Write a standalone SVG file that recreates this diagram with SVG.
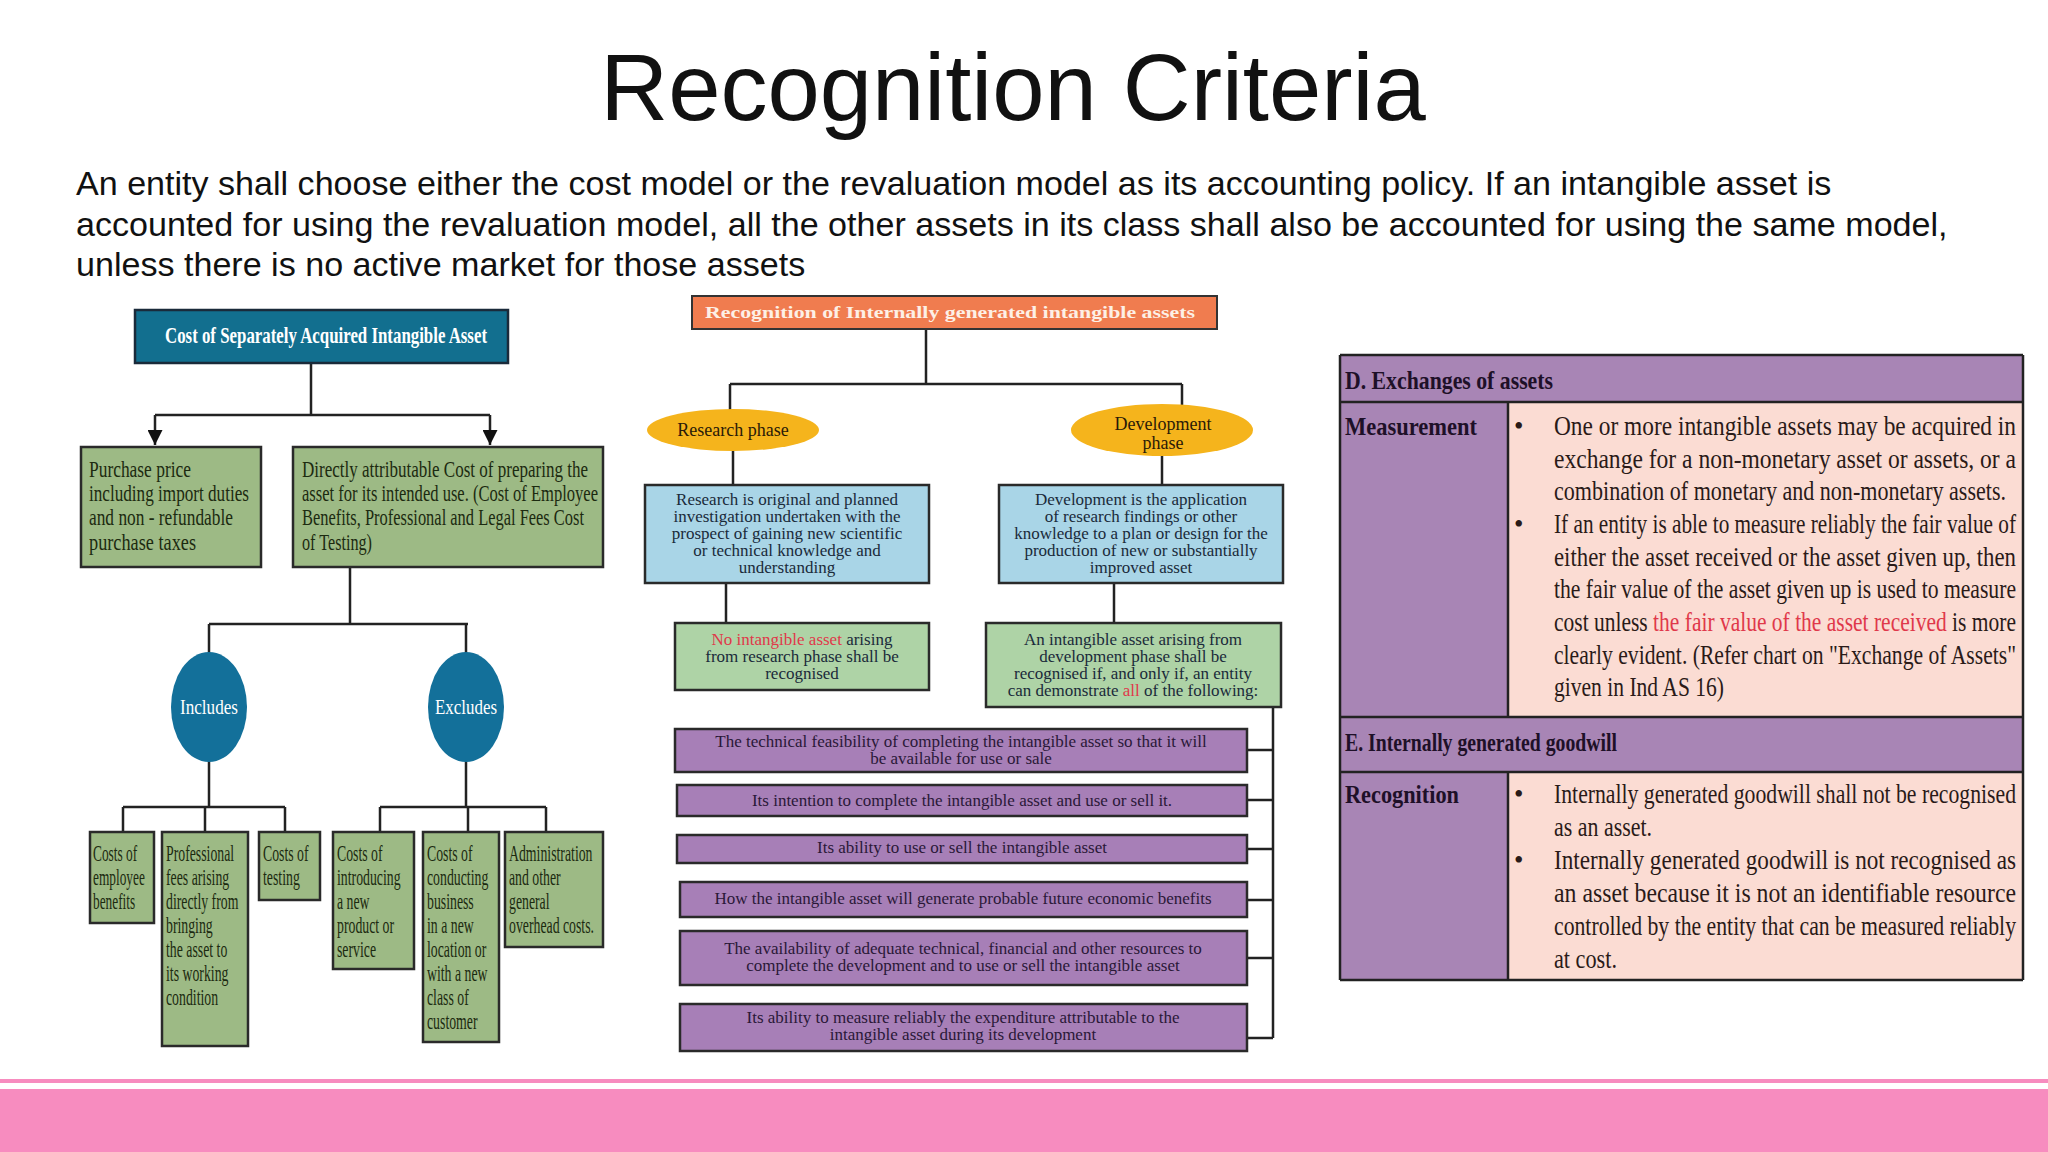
<svg xmlns="http://www.w3.org/2000/svg" width="2048" height="1152" viewBox="0 0 2048 1152">
<style>
.t{font-family:"Liberation Sans",Arial,sans-serif;fill:#111}
.s{font-family:"Liberation Serif","Times New Roman",serif}
.ln{stroke:#222;stroke-width:2.5;fill:none}
.gr{fill:#9dba85;stroke:#2a2a2a;stroke-width:2.5}
.bl{fill:#a9d5e7;stroke:#2a2a2a;stroke-width:2.5}
.gm{fill:#aed3a6;stroke:#2a2a2a;stroke-width:2.5}
.pu{fill:#a77fb7;stroke:#2a2a2a;stroke-width:2.5}
.gt{font-family:"Liberation Serif",serif;font-size:23px;fill:#1c2a10}
.mt{font-family:"Liberation Serif",serif;font-size:17px;fill:#1a2a3a;text-anchor:middle}
.pt{font-family:"Liberation Serif",serif;font-size:17px;fill:#2a1838;text-anchor:middle}
.tb{font-family:"Liberation Serif",serif;font-size:27px;fill:#2a1a18}
.th{font-family:"Liberation Serif",serif;font-size:26px;font-weight:bold;fill:#1e1028}
</style>
<defs>
<marker id="ah" viewBox="0 0 10 10" refX="10" refY="5" markerWidth="6" markerHeight="6" orient="auto" markerUnits="strokeWidth">
<path d="M0,0 L10,5 L0,10 z" fill="#111"/>
</marker>
</defs>
<rect width="2048" height="1152" fill="#fff"/>
<text class="t" x="1013" y="120" font-size="94" text-anchor="middle" fill="#222">Recognition Criteria</text>
<text class="t" font-size="34.1" fill="#111">
<tspan x="76" y="195">An entity shall choose either the cost model or the revaluation model as its accounting policy. If an intangible asset is</tspan>
<tspan x="76" y="236">accounted for using the revaluation model, all the other assets in its class shall also be accounted for using the same model,</tspan>
<tspan x="76" y="276">unless there is no active market for those assets</tspan>
</text>

<g id="connectors">
<path class="ln" d="M311,363 V415 M155,415 H490"/>
<path class="ln" d="M155,415 V445" marker-end="url(#ah)"/>
<path class="ln" d="M490,415 V445" marker-end="url(#ah)"/>
<path class="ln" d="M350,567 V624 M209,624 H468 M209,624 V653 M466,624 V653"/>
<path class="ln" d="M209,761 V807 M123,807 H285 M123,807 V832 M205,807 V832 M285,807 V832"/>
<path class="ln" d="M466,761 V807 M380,807 H546 M380,807 V832 M468,807 V832 M546,807 V832"/>
<path class="ln" d="M926,329 V384 M730,384 H1182 M730,384 V410 M1182,384 V405"/>
<path class="ln" d="M733,451 V485 M1162,456 V485 M726,583 V623 M1114,583 V623"/>
<path class="ln" d="M1273,707 V1038 M1247,750 H1273 M1247,800 H1273 M1247,849 H1273 M1247,900 H1273 M1247,958 H1273 M1247,1038 H1273"/>
</g>

<g id="n-cost">
<rect x="135" y="310" width="373" height="53" fill="#126f8f" stroke="#1a2a3a" stroke-width="2.5"/>
<text class="s" x="165" y="343" font-size="23" font-weight="bold" fill="#fff" textLength="322" lengthAdjust="spacingAndGlyphs">Cost of Separately Acquired Intangible Asset</text>
</g>
<g id="n-purchase">
<rect class="gr" x="81" y="447" width="180" height="120"/>
<text class="gt"><tspan x="89" y="477" textLength="102" lengthAdjust="spacingAndGlyphs">Purchase price</tspan><tspan x="89" y="501" textLength="160" lengthAdjust="spacingAndGlyphs">including import duties</tspan><tspan x="89" y="525" textLength="144" lengthAdjust="spacingAndGlyphs">and non - refundable</tspan><tspan x="89" y="550" textLength="107" lengthAdjust="spacingAndGlyphs">purchase taxes</tspan></text>
</g>
<g id="n-direct">
<rect class="gr" x="293" y="447" width="310" height="120"/>
<text class="gt"><tspan x="302" y="477" textLength="286" lengthAdjust="spacingAndGlyphs">Directly attributable Cost of preparing the</tspan><tspan x="302" y="501" textLength="296" lengthAdjust="spacingAndGlyphs">asset for its intended use. (Cost of Employee</tspan><tspan x="302" y="525" textLength="282" lengthAdjust="spacingAndGlyphs">Benefits, Professional and Legal Fees Cost</tspan><tspan x="302" y="550" textLength="70" lengthAdjust="spacingAndGlyphs">of Testing)</tspan></text>
</g>
<g id="n-includes">
<ellipse cx="209" cy="707" rx="38" ry="55" fill="#13709a"/>
<text class="s" x="209" y="714" font-size="22" fill="#fff" text-anchor="middle" textLength="58" lengthAdjust="spacingAndGlyphs">Includes</text>
</g>
<g id="n-excludes">
<ellipse cx="466" cy="707" rx="38" ry="55" fill="#13709a"/>
<text class="s" x="466" y="714" font-size="22" fill="#fff" text-anchor="middle" textLength="62" lengthAdjust="spacingAndGlyphs">Excludes</text>
</g>
<g id="n-c1">
<rect class="gr" x="90" y="832" width="64" height="91"/>
<g transform="translate(93 0) scale(0.58 1)"><text class="gt" font-size="22"><tspan x="0" y="861">Costs of</tspan><tspan x="0" y="885">employee</tspan><tspan x="0" y="909">benefits</tspan></text></g>
</g>
<g id="n-c2">
<rect class="gr" x="162" y="832" width="86" height="214"/>
<g transform="translate(166 0) scale(0.6 1)"><text class="gt" font-size="22"><tspan x="0" y="861">Professional</tspan><tspan x="0" y="885">fees arising</tspan><tspan x="0" y="909">directly from</tspan><tspan x="0" y="933">bringing</tspan><tspan x="0" y="957">the asset to</tspan><tspan x="0" y="981">its working</tspan><tspan x="0" y="1005">condition</tspan></text></g>
</g>
<g id="n-c3">
<rect class="gr" x="259" y="832" width="61" height="68"/>
<g transform="translate(263 0) scale(0.6 1)"><text class="gt" font-size="22"><tspan x="0" y="861">Costs of</tspan><tspan x="0" y="885">testing</tspan></text></g>
</g>
<g id="n-c4">
<rect class="gr" x="333" y="832" width="81" height="137"/>
<g transform="translate(337 0) scale(0.6 1)"><text class="gt" font-size="22"><tspan x="0" y="861">Costs of</tspan><tspan x="0" y="885">introducing</tspan><tspan x="0" y="909">a new</tspan><tspan x="0" y="933">product or</tspan><tspan x="0" y="957">service</tspan></text></g>
</g>
<g id="n-c5">
<rect class="gr" x="423" y="832" width="76" height="210"/>
<g transform="translate(427 0) scale(0.6 1)"><text class="gt" font-size="22"><tspan x="0" y="861">Costs of</tspan><tspan x="0" y="885">conducting</tspan><tspan x="0" y="909">business</tspan><tspan x="0" y="933">in a new</tspan><tspan x="0" y="957">location or</tspan><tspan x="0" y="981">with a new</tspan><tspan x="0" y="1005">class of</tspan><tspan x="0" y="1029">customer</tspan></text></g>
</g>
<g id="n-c6">
<rect class="gr" x="505" y="832" width="98" height="115"/>
<g transform="translate(509 0) scale(0.6 1)"><text class="gt" font-size="22"><tspan x="0" y="861">Administration</tspan><tspan x="0" y="885">and other</tspan><tspan x="0" y="909">general</tspan><tspan x="0" y="933">overhead costs.</tspan></text></g>
</g>

<g id="n-recog">
<rect x="692" y="296" width="525" height="33" fill="#f07c4f" stroke="#333" stroke-width="2"/>
<text class="s" x="705" y="318" font-size="17" font-weight="bold" fill="#fdf0e6" textLength="490" lengthAdjust="spacingAndGlyphs">Recognition of  Internally generated intangible assets</text>
</g>
<g id="n-research">
<ellipse cx="733" cy="430" rx="86" ry="21" fill="#f5b41c"/>
<text class="s" x="733" y="436" font-size="18" fill="#2a1a08" text-anchor="middle">Research phase</text>
</g>
<g id="n-development">
<ellipse cx="1162" cy="430" rx="91" ry="26" fill="#f5b41c"/>
<text class="s" font-size="18" fill="#2a1a08" text-anchor="middle"><tspan x="1163" y="430">Development</tspan><tspan x="1163" y="449">phase</tspan></text>
</g>
<g id="n-rdef">
<rect class="bl" x="645" y="485" width="284" height="98"/>
<text class="mt"><tspan x="787" y="505">Research is original and planned</tspan><tspan x="787" y="522">investigation undertaken with the</tspan><tspan x="787" y="539">prospect of gaining new scientific</tspan><tspan x="787" y="556">or technical knowledge and</tspan><tspan x="787" y="573">understanding</tspan></text>
</g>
<g id="n-ddef">
<rect class="bl" x="999" y="485" width="284" height="98"/>
<text class="mt"><tspan x="1141" y="505">Development is the application</tspan><tspan x="1141" y="522">of research findings or other</tspan><tspan x="1141" y="539">knowledge to a plan or design for the</tspan><tspan x="1141" y="556">production of new or substantially</tspan><tspan x="1141" y="573">improved asset</tspan></text>
</g>
<g id="n-rno">
<rect class="gm" x="675" y="623" width="254" height="67"/>
<text class="mt"><tspan x="802" y="645"><tspan fill="#e0384a">No intangible asset</tspan> arising</tspan><tspan x="802" y="662">from research phase shall be</tspan><tspan x="802" y="679">recognised</tspan></text>
</g>
<g id="n-dyes">
<rect class="gm" x="986" y="623" width="295" height="84"/>
<text class="mt"><tspan x="1133" y="645">An intangible asset arising from</tspan><tspan x="1133" y="662">development phase shall be</tspan><tspan x="1133" y="679">recognised if, and only if, an entity</tspan><tspan x="1133" y="696">can demonstrate <tspan fill="#e0384a">all</tspan> of the following:</tspan></text>
</g>
<g id="n-p1"><rect class="pu" x="675" y="729" width="572" height="43"/><text class="pt"><tspan x="961" y="747">The technical feasibility of completing the intangible asset so that it will</tspan><tspan x="961" y="764">be available for use or sale</tspan></text></g>
<g id="n-p2"><rect class="pu" x="677" y="785" width="570" height="31"/><text class="pt" x="962" y="806">Its intention to complete the intangible asset and use or sell it.</text></g>
<g id="n-p3"><rect class="pu" x="677" y="835" width="570" height="28"/><text class="pt" x="962" y="853">Its ability to use or sell the intangible asset</text></g>
<g id="n-p4"><rect class="pu" x="680" y="882" width="567" height="35"/><text class="pt" x="963" y="904">How the intangible asset will generate probable future economic benefits</text></g>
<g id="n-p5"><rect class="pu" x="680" y="931" width="567" height="54"/><text class="pt"><tspan x="963" y="954">The availability of adequate technical, financial and other resources to</tspan><tspan x="963" y="971">complete the development and to use or sell the intangible asset</tspan></text></g>
<g id="n-p6"><rect class="pu" x="680" y="1004" width="567" height="47"/><text class="pt"><tspan x="963" y="1023">Its ability to measure reliably the expenditure attributable to the</tspan><tspan x="963" y="1040">intangible asset during its development</tspan></text></g>

<g id="n-table">
<rect x="1340" y="355" width="683" height="47" fill="#a885b5"/>
<rect x="1340" y="402" width="168" height="315" fill="#a885b5"/>
<rect x="1508" y="402" width="515" height="315" fill="#fbdcd3"/>
<rect x="1340" y="717" width="683" height="55" fill="#a885b5"/>
<rect x="1340" y="772" width="168" height="208" fill="#a885b5"/>
<rect x="1508" y="772" width="515" height="208" fill="#fbdcd3"/>
<path d="M1340,355 H2023 M1340,402 H2023 M1340,717 H2023 M1340,772 H2023 M1340,980 H2023 M1340,355 V980 M2023,355 V980 M1508,402 V717 M1508,772 V980" stroke="#222" stroke-width="2.5" fill="none"/>
<text class="th" x="1345" y="389" textLength="208" lengthAdjust="spacingAndGlyphs">D. Exchanges of assets</text>
<text class="th" x="1345" y="435" textLength="132" lengthAdjust="spacingAndGlyphs">Measurement</text>
<text class="th" x="1345" y="751" textLength="272" lengthAdjust="spacingAndGlyphs">E. Internally generated goodwill</text>
<text class="th" x="1345" y="803" textLength="114" lengthAdjust="spacingAndGlyphs">Recognition</text>
<text class="tb" x="1514" y="435">•</text>
<text class="tb" x="1514" y="533">•</text>
<text class="tb" x="1514" y="803">•</text>
<text class="tb" x="1514" y="869">•</text>
<text class="tb">
<tspan x="1554" y="435" textLength="462" lengthAdjust="spacingAndGlyphs">One or more intangible assets may be acquired in</tspan>
<tspan x="1554" y="468" textLength="462" lengthAdjust="spacingAndGlyphs">exchange for a non-monetary asset or assets, or a</tspan>
<tspan x="1554" y="500" textLength="452" lengthAdjust="spacingAndGlyphs">combination of monetary and non-monetary assets.</tspan>
<tspan x="1554" y="533" textLength="462" lengthAdjust="spacingAndGlyphs">If an entity is able to measure reliably the fair value of</tspan>
<tspan x="1554" y="566" textLength="462" lengthAdjust="spacingAndGlyphs">either the asset received or the asset given up, then</tspan>
<tspan x="1554" y="598" textLength="462" lengthAdjust="spacingAndGlyphs">the fair value of the asset given up is used to measure</tspan>
<tspan x="1554" y="631" textLength="462" lengthAdjust="spacingAndGlyphs">cost unless <tspan fill="#e0384a">the fair value of the asset received</tspan> is more</tspan>
<tspan x="1554" y="664" textLength="462" lengthAdjust="spacingAndGlyphs">clearly evident. (Refer  chart on "Exchange of Assets"</tspan>
<tspan x="1554" y="696" textLength="170" lengthAdjust="spacingAndGlyphs">given in Ind AS 16)</tspan>
</text>
<text class="tb">
<tspan x="1554" y="803" textLength="462" lengthAdjust="spacingAndGlyphs">Internally generated goodwill shall not be recognised</tspan>
<tspan x="1554" y="836" textLength="98" lengthAdjust="spacingAndGlyphs">as an asset.</tspan>
<tspan x="1554" y="869" textLength="462" lengthAdjust="spacingAndGlyphs">Internally generated goodwill is not recognised as</tspan>
<tspan x="1554" y="902" textLength="462" lengthAdjust="spacingAndGlyphs">an asset because it is not an identifiable resource</tspan>
<tspan x="1554" y="935" textLength="462" lengthAdjust="spacingAndGlyphs">controlled by the entity that can be measured reliably</tspan>
<tspan x="1554" y="968" textLength="63" lengthAdjust="spacingAndGlyphs">at cost.</tspan>
</text>
</g>

<rect x="0" y="1079" width="2048" height="4" fill="#f78cbf"/>
<rect x="0" y="1089" width="2048" height="63" fill="#f78cbf"/>
</svg>
